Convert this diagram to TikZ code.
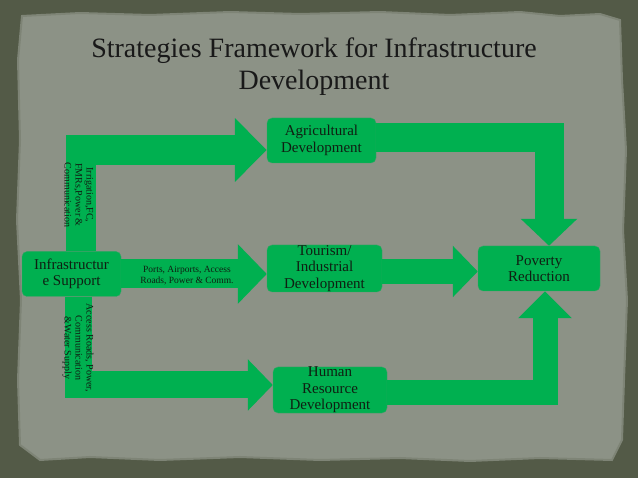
\documentclass[tikz,border=0pt]{standalone}
\usepackage{fontspec}
\setmainfont{Liberation Serif}
\usetikzlibrary{arrows.meta,positioning}
\definecolor{frame}{HTML}{535A47}
\definecolor{paper}{HTML}{8C9286}
\definecolor{leaf}{HTML}{00B050}
\definecolor{ink}{HTML}{0F1F12}
\tikzset{
  box/.style={fill=leaf,draw=leaf!60!paper,rounded corners=5pt,text=ink,
    align=center,font=\fontsize{15}{16.5}\selectfont,inner sep=0pt},
  flow/.style={draw=leaf,line width=#1},
  side/.style={text=ink,align=center,font=\fontsize{10}{11}\selectfont,inner sep=0pt},
}
\def\head#1#2{-{Triangle[length=#1pt,width=#2pt]}}

\begin{document}
\begin{tikzpicture}[x=1pt,y=-1pt]
\useasboundingbox (0,0) rectangle (638,478);
\fill[frame] (0,0) rectangle (638,478);
% torn paper
\filldraw[fill=paper,draw=paper!75!frame,line width=2pt]
  (22,16) -- (80,13) -- (150,15) -- (230,12) -- (300,14) -- (380,12) -- (450,15)
  -- (520,12) -- (560,16) -- (600,14) -- (620,20) -- (622,80) -- (626,150)
  -- (623,230) -- (627,300) -- (624,380) -- (622,440) -- (612,460) -- (540,458)
  -- (470,461) -- (400,458) -- (320,460) -- (240,457) -- (160,460) -- (90,457)
  -- (40,460) -- (20,445) -- (18,380) -- (21,300) -- (17,220) -- (20,140)
  -- (18,60) -- cycle;

\node[font=\fontsize{28}{32}\selectfont,align=center,text=black!90] (title) at (314,67)
  {Strategies Framework for Infrastructure\\Development};

\node[box,minimum width=99pt,minimum height=45pt] (infra) at (71.5,274) {Infrastructur\\e Support};
\node[box,minimum width=109pt,minimum height=45pt] (agri) at (321.5,140.5) {Agricultural\\Development};
\node[box,minimum width=115pt,minimum height=47pt] (tour) at (324.5,268.5) {Tourism/\\Industrial\\Development};
\node[box,minimum width=114pt,minimum height=46pt] (human) at (330,390) {Human\\Resource\\Development};
\node[box,minimum width=122pt,minimum height=45pt] (pov) at (539,268.5) {Poverty\\Reduction};

\draw[flow=30pt,\head{32}{62}] ([xshift=9.5pt]infra.north) |- ([yshift=-9.5pt]agri.west);
\draw[flow=29pt,\head{29}{58}] (infra.east) -- (infra.east -| tour.west);
\draw[flow=27pt,\head{25}{50}] ([xshift=7pt]infra.south) |- ([yshift=5pt]human.west);
\draw[flow=29pt,\head{27}{55}] ([yshift=3pt]agri.east) -| ([xshift=10pt]pov.north);
\draw[flow=25pt,\head{25}{50}] ([yshift=-3pt]tour.east) -- ([yshift=-3pt]tour.east -| pov.west);
\draw[flow=25pt,\head{27}{52}] ([yshift=-2.5pt]human.east) -| ([xshift=6pt]pov.south);

\node[side,rotate=-90] (irrig) at (79,195) {Irrigation,FC,\\FMRs,Power \&\\Communication};
\node[side,rotate=-90] (access) at (78,348) {Access Roads, Power,\\Communication\\\&Water Supply};
\node[side,font=\fontsize{9.5}{11}\selectfont] (ports) at (187,276) {Ports, Airports, Access\\Roads, Power \& Comm.};
\end{tikzpicture}
\end{document}
